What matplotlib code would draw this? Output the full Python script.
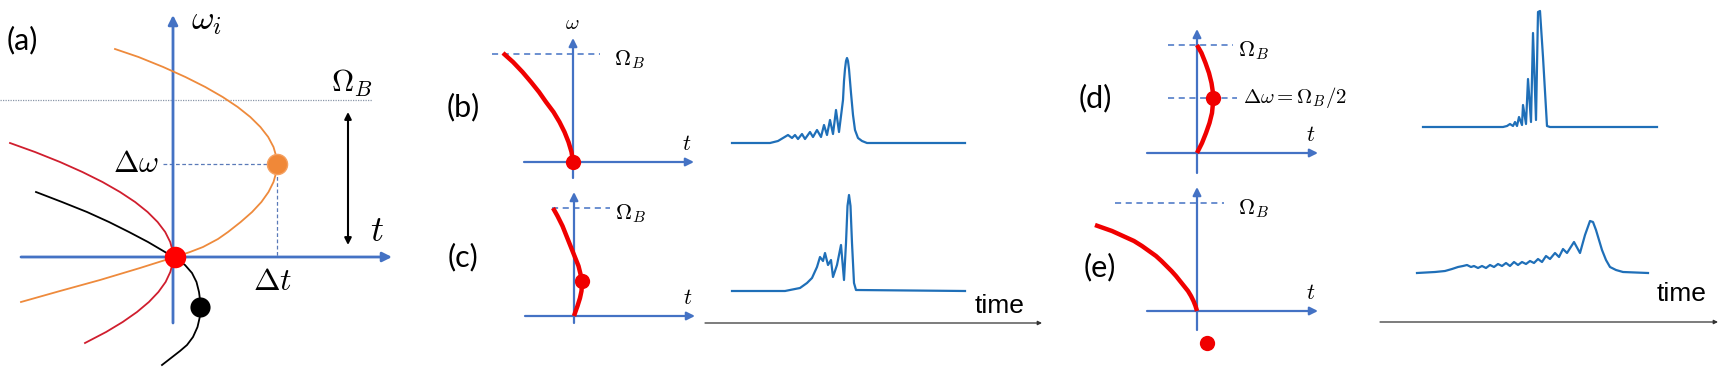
import numpy as np
import matplotlib.pyplot as plt
from matplotlib.transforms import Affine2D

plt.rcParams['mathtext.fontset'] = 'cm'

# ---- panel (a): frequency vs time curves (local units, origin at axes crossing)
a_orange_w = [208, 200, 190, 180, 170, 160, 150, 140, 130, 120, 110, 100, 93,
              85, 75, 65, 55, 45, 35, 25, 18, 10, 5, 0, -5, -11, -17, -23, -34, -45]
a_orange_t = [-58, -34.5, -9.8, 12.4, 32.3, 49.7, 64.7, 77.3, 87.4, 95.2, 100.5, 103.4, 104,
              103.3, 100.5, 95.5, 88.4, 79.1, 67.7, 55, 45, 30, 17, 2, -14, -33, -53, -73, -113, -152]
a_red_w = [114, 105, 95, 85, 75, 65, 55, 45, 35, 25, 15, 7, 0,
           -7, -15, -25, -35, -45, -55, -65, -75, -86]
a_red_t = [-163, -138, -113, -90.6, -70.5, -53, -37.9, -25.4, -15.4, -7.8, -2.8, -0.6, 0,
           -0.6, -2.7, -7.4, -14.6, -24.1, -36, -50.3, -66.9, -88]
a_black_w = [65, 55, 45, 35, 25, 15, 5, 0, -8, -16, -25, -35, -45, -52, -60, -70, -80, -88, -94, -101, -108]
a_black_t = [-137, -111, -86, -64, -44, -25, -8, 0, 12, 19, 23.5, 26, 27.3, 27.5, 26.8, 24.5, 20, 14, 7, -2, -11]
a_dots = {'red': (2, 0), 'orange': (104, 93), 'black': (27, -50)}
a_omega_b = 157
a_delta_w = 93
a_delta_t = 104

# ---- panels (b)-(e): red chirp curves
b_w = [109, 100, 90, 80, 70, 60, 50, 40, 30, 20, 10, 0]
b_t = [-70, -60, -50.5, -42, -34, -27, -19.5, -13.5, -8.5, -4.5, -1.5, 0]
c_w = [108, 100, 90, 80, 70, 60, 50, 40, 33, 25, 18, 10, 5, 0]
c_t = [-21, -16.5, -11.5, -7.5, -3.5, 0.5, 4.5, 7, 8, 7.5, 6, 3.5, 1.7, 0]
d_w = [108, 100, 90, 80, 70, 60, 55, 50, 40, 30, 20, 10, 0]
d_t = [0, 4.5, 8.5, 12, 14.5, 16, 16.2, 16, 15, 12.5, 9, 5, 0]
e_w = [86, 80, 75, 70, 65, 60, 55, 50, 45, 40, 35, 30, 25, 20, 15, 10, 5, 0]
e_t = [-102, -85, -74, -63, -55, -48, -41, -35.5, -30.5, -25.5, -21, -17, -13, -9, -6, -3.5, -1.5, 0]
dot_b, dot_c, dot_d, dot_e = (0, 0), (8, 35), (16, 55), (10, -32)
omega_b = 108

# ---- pulse traces (time offset, intensity)
pb_t = [0, 38, 46, 51, 56, 60, 63, 66, 70, 73, 78, 81, 85, 89, 92, 95, 98, 101, 104, 107,
        111, 112, 113, 114, 115, 116, 117, 118, 119, 121, 123, 126, 130, 135, 233]
pb_i = [0, 0, 2, 5, 8, 5, 8, 4, 9, 4, 11, 6, 13, 6, 18, 8, 23, 9, 33, 11,
        43, 62, 74, 82, 85, 82, 74, 62, 50, 28, 13, 5, 2, 0, 0]
pc_t = [0, 53, 58, 68, 75, 80, 85, 88, 91, 93, 96, 99, 101, 105, 109, 112,
        114, 115.5, 117, 118.5, 120, 122, 124, 233]
pc_i = [0, 0, 1, 3, 8, 13, 24, 34, 30, 38, 26, 31, 14, 26, 46, 11,
        48, 85, 96, 85, 48, 8, 1, 0]
pd_t = [0, 80, 84, 87, 90, 92, 94, 96, 99, 100, 103, 105, 108, 110, 113, 115, 117, 120, 124, 127, 234]
pd_i = [0, 0, 1, 3, 1, 5, 1, 10, 2, 22, 3, 48, 5, 94, 7, 115, 116, 70, 1, 0, 0]
pe_t = [0, 18, 28, 35, 41, 46, 50, 54, 57, 61, 65, 69, 73, 77, 81, 85, 89, 93, 97, 101,
        105, 109, 113, 117, 121, 125, 129, 133, 138, 142, 146, 150, 157, 163, 168, 173,
        176, 179, 185, 189, 193, 199, 206, 231]
pe_i = [0, 1, 2, 4, 6, 7, 8, 6, 7, 5, 7, 5, 8, 6, 9, 7, 10, 7, 11, 8,
        11, 9, 12, 10, 14, 11, 17, 14, 20, 16, 24, 20, 31, 20, 38, 52,
        51, 43, 23, 13, 6, 3, 1, 0]

AX = '#4472C4'
RED = '#F00000'
PULSE = '#1F6FB8'

fig = plt.figure(figsize=(17.25, 3.69), dpi=100)
ax = fig.add_axes([0, 0, 1, 1])
ax.set_xlim(0, 1725)
ax.set_ylim(369, 0)
ax.axis('off')


def frame(ox, oy):
    return Affine2D().scale(1, -1).translate(ox, oy) + ax.transData


def arrow(tr, x0, y0, x1, y1, color=AX, lw=1.8, ms=14, style='-|>'):
    ax.annotate('', xy=(x1, y1), xycoords=tr, xytext=(x0, y0), textcoords=tr,
                arrowprops=dict(arrowstyle=style, color=color, lw=lw,
                                mutation_scale=ms, shrinkA=0, shrinkB=0))


lab_font = dict(family='Lato', fontsize=22)

# ================= panel (a)
ta = frame(173, 257)
ax.plot([-173, 199], [a_omega_b, a_omega_b], transform=ta, color='#8a96a8', lw=0.9, ls=(0, (1, 1)))
ax.plot([-10, a_delta_t], [a_delta_w, a_delta_w], transform=ta, color='#5a7ab8', lw=0.9, ls=(0, (3, 2)))
ax.plot([a_delta_t, a_delta_t], [a_delta_w, 0], transform=ta, color='#5a7ab8', lw=0.9, ls=(0, (3, 2)))
arrow(ta, -152, 0, 219, 0, lw=2)
arrow(ta, 0, -66, 0, 242, lw=2)
ax.plot(a_orange_t, a_orange_w, transform=ta, color='#EE8A3C', lw=1.3, zorder=3)
ax.plot(a_red_t, a_red_w, transform=ta, color='#D01E2E', lw=1.3, zorder=3)
ax.plot(a_black_t, a_black_w, transform=ta, color='black', lw=1.3, zorder=3)
ax.plot(*a_dots['orange'], 'o', transform=ta, color='#F08838', ms=14.5, mec='#F5A060', mew=1, zorder=5)
ax.plot(*a_dots['red'], 'o', transform=ta, color='#FF0000', ms=15.5, mec='none', zorder=5)
ax.plot(*a_dots['black'], 'o', transform=ta, color='black', ms=14.5, mec='none', zorder=5)
arrow(ta, 175, 145, 175, 12, color='black', lw=1.5, ms=10, style='<|-|>')
ax.text(-166, 217, '(a)', transform=ta, ha='left', va='center', **lab_font)
ax.text(18, 254, r'$\omega_i$', transform=ta, ha='left', va='top', fontsize=25)
ax.text(179, 174, r'$\Omega_B$', transform=ta, ha='center', va='center', fontsize=22)
ax.text(-14, 93, r'$\Delta\omega$', transform=ta, ha='right', va='center', fontsize=22)
ax.text(100, -25, r'$\Delta t$', transform=ta, ha='center', va='center', fontsize=23)
ax.text(204, 26, r'$t$', transform=ta, ha='center', va='center', fontsize=26)


# ================= panels (b)-(e)
def small_panel(ox, oy, vlo, hlo, t, w, dot, dash_lo, label, lab_xy, omega_lab=False):
    tr = frame(ox, oy)
    ax.plot([dash_lo, 27 if dash_lo < -40 else 36], [omega_b, omega_b], transform=tr,
            color=AX, lw=1.1, ls=(0, (4, 3)))
    arrow(tr, hlo, 0, 121, 0, lw=1.6, ms=12)
    arrow(tr, 0, vlo, 0, 124, lw=1.6, ms=12)
    ax.plot(t, w, transform=tr, color=RED, lw=3.2, solid_capstyle='butt', zorder=4)
    ax.plot(*dot, 'o', transform=tr, color=RED, ms=11, mec='none', zorder=5)
    ax.text(56, 102, r'$\Omega_B$', transform=tr, ha='center', va='center', fontsize=16)
    ax.text(114, 18, r'$t$', transform=tr, ha='center', va='center', fontsize=16)
    ax.text(*lab_xy, label, transform=tr, ha='center', va='center', **lab_font)
    if omega_lab:
        ax.text(-1, 139, r'$\omega$', transform=tr, ha='center', va='center', fontsize=15)
    return tr


small_panel(573, 162, -16, -49, b_t, b_w, dot_b, -81, '(b)', (-110, 55), omega_lab=True)
small_panel(574, 316, -7, -49, c_t, c_w, dot_c, -22, '(c)', (-111, 59))
td = small_panel(1197, 153, -20, -50, d_t, d_w, dot_d, -29, '(d)', (-102, 55))
small_panel(1197, 311, -19, -50, e_t, e_w, dot_e, -82, '(e)', (-97, 44))
ax.plot([-29, 40], [55, 55], transform=td, color=AX, lw=1.1, ls=(0, (4, 3)))
ax.text(46, 55, r'$\Delta\omega = \Omega_B/2$', transform=td, ha='left', va='center', fontsize=15)

# ================= pulse traces
for (ox, oy), t, i in [((732, 143), pb_t, pb_i), ((732, 291), pc_t, pc_i),
                       ((1423, 127), pd_t, pd_i), ((1417, 273), pe_t, pe_i)]:
    ax.plot(t, i, transform=frame(ox, oy), color=PULSE, lw=1.6, solid_joinstyle='round')

for x0, x1, y, tx, ty in [(705, 1042, 323, 1000, 306), (1380, 1718, 322, 1682, 294)]:
    arrow(ax.transData, x0, y, x1, y, color='#333333', lw=0.9, ms=6)
    ax.text(tx, ty, 'time', ha='center', va='center', family='Liberation Sans', fontsize=19)

fig.savefig('out.png', dpi=100)
